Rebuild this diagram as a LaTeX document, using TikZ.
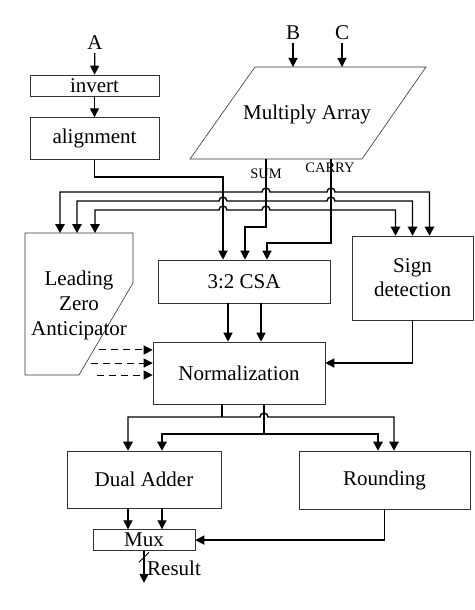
\documentclass[tikz,border=0pt]{standalone}
\usepackage{fontspec}
\setmainfont{Liberation Serif}
\usetikzlibrary{arrows.meta, positioning, calc}

\tikzset{
    blk/.style={draw=black!80, line width=0.6pt, inner sep=0pt, align=center, font=\fontsize{21}{24}\selectfont},
    frame/.style={draw=black!80, line width=0.6pt},
    lbl/.style={inner sep=0pt, font=\fontsize{21}{24}\selectfont},
    tag/.style={inner sep=0pt, font=\fontsize{14.5}{16}\selectfont},
    wire/.style={line width=1.3pt, -{Triangle[length=9pt,width=9pt]}},
    bus/.style={line width=1.4pt, {Triangle[length=9pt,width=9.5pt]}-{Triangle[length=9pt,width=9.5pt]}},
    dwire/.style={wire, line width=1pt, dash pattern=on 7pt off 5pt}
}

\begin{document}
\begin{tikzpicture}[x=1pt, y=-1pt]
    \useasboundingbox (0,0) rectangle (474,610);

    % blocks
    \node[blk, minimum width=129pt, minimum height=21pt] (invert) at (94.5,85.5) {invert};
    \node[blk, minimum width=129pt, minimum height=42pt, below=21pt of invert] (alignment) {alignment};
    \node[blk, minimum width=172pt, minimum height=43pt] (csa) at (244,281.5) {3:2 CSA};
    \node[blk, minimum width=121pt, minimum height=84pt] (sign) at (412.5,278) {Sign\\detection};
    \node[blk, minimum width=172pt, minimum height=62pt] (norm) at (239,373) {Normalization};
    \node[blk, minimum width=154pt, minimum height=57pt] (dual) at (144,479.5) {Dual Adder};
    \node[blk, minimum width=171pt, minimum height=58pt] (rnd) at (384.5,480) {Rounding};
    \node[blk, minimum width=102pt, minimum height=21pt, below=21pt of dual] (mux) {Mux};

    % multiply array (parallelogram)
    \coordinate (mBL) at (190,159);
    \coordinate (mBR) at (362,159);
    \coordinate (mTR) at (426,67);
    \coordinate (mTL) at (255,67);
    \draw[frame] (mBL) -- (mBR) -- (mTR) -- (mTL) -- cycle;
    \node[lbl] (mult) at (307,114) {Multiply Array};

    % leading zero anticipator (cut corner)
    \coordinate (zTL) at (25,233);
    \coordinate (zTR) at (133,233);
    \coordinate (zR) at (133,283);
    \coordinate (zB) at (79,375);
    \coordinate (zBL) at (25,375);
    \draw[frame] (zTL) -- (zTR) -- (zR) -- (zB) -- (zBL) -- cycle;
    \node[lbl, align=center, font=\fontsize{21}{25}\selectfont] (lza) at (79,305) {Leading\\Zero\\Anticipator};

    % inputs
    \node[lbl] (A) at (95,43) {A};
    \node[lbl] (B) at (293,33) {B};
    \node[lbl] (C) at (342,33) {C};
    \draw[wire, shorten <=3pt] (A) -- (invert.north);
    \draw[wire] (invert) -- (alignment);
    \draw[wire, shorten <=3pt] (B) -- (B |- mTL);
    \draw[wire, shorten <=3pt] (C) -- (C |- mTL);

    % bus levels and tap positions
    \coordinate (busA) at (0,192);
    \coordinate (busS) at (0,201);
    \coordinate (busC) at (0,210);
    \coordinate (xal) at (223,0);
    \coordinate (xsum) at (266,0);
    \coordinate (xcar) at (331,0);
    \coordinate (lzaA) at (60,233);
    \coordinate (lzaS) at (77,233);
    \coordinate (lzaC) at (95,233);
    \coordinate (sgnA) at ([xshift=17pt]sign.north);
    \coordinate (sgnS) at (sign.north);
    \coordinate (sgnC) at ([xshift=-17pt]sign.north);
    \coordinate (sumout) at (xsum |- mBL);
    \coordinate (carout) at (xcar |- mBL);

    % alignment, sum and carry into the CSA
    \draw[wire] (alignment.south) -- ++(0,17) -| (xal |- csa.north);
    \draw[wire] (sumout) -- ++(0,68) -| ([xshift=1pt]csa.north);
    \draw[wire] (carout) -- ++(0,84) -| ([xshift=23pt]csa.north);

    % the three buses to LZA and sign detection
    \draw[bus] (lzaA) -- (lzaA |- busA)
        -- ($(xsum |- busA)+(-4,0)$) arc[start angle=180, end angle=0, radius=4pt]
        -- ($(xcar |- busA)+(-4,0)$) arc[start angle=180, end angle=0, radius=4pt]
        -- (sgnA |- busA) -- (sgnA);
    \draw[bus] (lzaS) -- (lzaS |- busS)
        -- ($(xal |- busS)+(-4,0)$) arc[start angle=180, end angle=0, radius=4pt]
        -- ($(xcar |- busS)+(-4,0)$) arc[start angle=180, end angle=0, radius=4pt]
        -- (sgnS |- busS) -- (sgnS);
    \draw[bus] (lzaC) -- (lzaC |- busC)
        -- ($(xal |- busC)+(-4,0)$) arc[start angle=180, end angle=0, radius=4pt]
        -- ($(xsum |- busC)+(-4,0)$) arc[start angle=180, end angle=0, radius=4pt]
        -- (sgnC |- busC) -- (sgnC);

    \node[tag] (sum) at (266,174) {SUM};
    \node[tag] (carry) at (330,168) {CARRY};

    % CSA and sign detection into normalization
    \coordinate (c1) at ([xshift=-16pt]csa.south);
    \coordinate (c2) at ([xshift=17pt]csa.south);
    \draw[wire] (c1) -- (c1 |- norm.north);
    \draw[wire] (c2) -- (c2 |- norm.north);
    \draw[wire] (sign.south) |- ([yshift=10pt]norm.east);

    % LZA into normalization
    \coordinate (z1) at ($(zR)!0.728!(zB)$);
    \coordinate (z2) at ($(zR)!0.870!(zB)$);
    \coordinate (z3) at ($(zR)!1.0!(zB)$);
    \draw[dwire, shorten <=5pt] (z1) -- (z1 -| norm.west);
    \draw[dwire, shorten <=5pt] (z2) -- (z2 -| norm.west);
    \draw[dwire, shorten <=18pt] (z3) -- (z3 -| norm.west);

    % normalization to dual adder and rounding
    \coordinate (busN) at (0,417);
    \coordinate (busM) at (0,434);
    \coordinate (n1) at ([xshift=-17pt]norm.south);
    \coordinate (n2) at ([xshift=25pt]norm.south);
    \coordinate (d1) at ([xshift=-16pt]dual.north);
    \coordinate (d2) at ([xshift=18pt]dual.north);
    \coordinate (r1) at ([xshift=9.5pt]rnd.north);
    \coordinate (r2) at ([xshift=-6.5pt]rnd.north);
    \draw[line width=1.3pt] (n1) -- (n1 |- busN);
    \draw[line width=1.3pt] (n2) -- (n2 |- busM);
    \draw[bus] (d1) -- (d1 |- busN)
        -- ($(n2 |- busN)+(-4,0)$) arc[start angle=180, end angle=0, radius=4pt]
        -- (r1 |- busN) -- (r1);
    \draw[bus] (d2) -- (d2 |- busM) -- (r2 |- busM) -- (r2);

    % into the mux
    \draw[wire] (d1 |- dual.south) -- (d1 |- mux.north);
    \draw[wire] (d2 |- dual.south) -- (d2 |- mux.north);
    \draw[wire] (rnd.south) |- (mux.east);

    % result
    \coordinate (res) at ([yshift=-32pt]mux.south);
    \draw[wire] (mux.south) -- (res);
    \draw[line width=0.8pt] ($(mux.south)!0.2!(res)+(-5,5)$) -- ++(10,-10);
    \node[lbl, anchor=west] (result) at ($(mux.south)!0.53!(res)+(3,0)$) {Result};
\end{tikzpicture}
\end{document}
